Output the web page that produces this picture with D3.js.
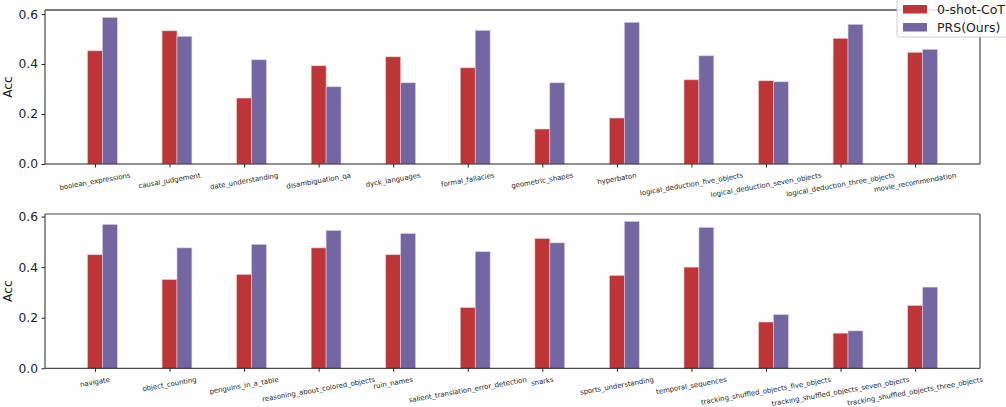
<!DOCTYPE html>
<html>
<head>
<meta charset="utf-8">
<script src="https://cdn.jsdelivr.net/npm/d3@7"></script>
<style>
  body { margin: 0; background: #fff; }
  svg text { font-family: "DejaVu Sans", sans-serif; }
</style>
</head>
<body>
<div id="chart"></div>
<script>
// two panels of BBH tasks, 0-shot-CoT vs PRS(Ours)

const tasksTop = ["boolean_expressions", "causal_judgement", "date_understanding", "disambiguation_qa",
  "dyck_languages", "formal_fallacies", "geometric_shapes", "hyperbaton",
  "logical_deduction_five_objects", "logical_deduction_seven_objects",
  "logical_deduction_three_objects", "movie_recommendation"];
const cotTop = [0.453, 0.533, 0.264, 0.393, 0.429, 0.385, 0.140, 0.184, 0.337, 0.333, 0.503, 0.447];
const prsTop = [0.587, 0.511, 0.417, 0.309, 0.325, 0.535, 0.325, 0.567, 0.433, 0.329, 0.559, 0.459];

const tasksBottom = ["navigate", "object_counting", "penguins_in_a_table", "reasoning_about_colored_objects",
  "ruin_names", "salient_translation_error_detection", "snarks", "sports_understanding",
  "temporal_sequences", "tracking_shuffled_objects_five_objects",
  "tracking_shuffled_objects_seven_objects", "tracking_shuffled_objects_three_objects"];
const cotBottom = [0.449, 0.351, 0.371, 0.476, 0.449, 0.240, 0.513, 0.367, 0.400, 0.183, 0.139, 0.248];
const prsBottom = [0.569, 0.476, 0.490, 0.545, 0.533, 0.461, 0.496, 0.581, 0.557, 0.212, 0.148, 0.321];

const yTicks = [0.0, 0.2, 0.4, 0.6];
const seriesNames = ["0-shot-CoT", "PRS(Ours)"];

const W = 1006, H = 407;
const red = "#be3538", purple = "#7467a1";
const barW = 0.2;
const rot = 10; // degrees, x tick labels

const svg = d3.select("#chart").append("svg")
    .attr("width", W)
    .attr("height", H);

function drawPanel(tasks, cot, prs, top, bottom, topSpineGray) {
    const g = svg.append("g");
    const n = tasks.length;
    // matplotlib-like 5% margins
    const lo = -barW / 2, hi = (n - 1) + barW * 1.5;
    const pad = (hi - lo) * 0.05;
    const x = d3.scaleLinear().domain([lo - pad, hi + pad]).range([45, 980]);
    const ymax = d3.max(cot.concat(prs)) * 1.05;
    const y = d3.scaleLinear().domain([0, ymax]).range([bottom, top]);

    // bars
    g.selectAll(".cot").data(cot).enter().append("rect")
        .attr("x", (d, i) => x(i - barW / 2))
        .attr("width", (d, i) => x(i + barW / 2) - x(i - barW / 2))
        .attr("y", d => y(d))
        .attr("height", d => y(0) - y(d))
        .attr("fill", red)
        .attr("stroke", "#f0c8c8")
        .attr("stroke-width", 0.6);
    g.selectAll(".prs").data(prs).enter().append("rect")
        .attr("x", (d, i) => x(i + barW / 2))
        .attr("width", (d, i) => x(i + barW * 1.5) - x(i + barW / 2))
        .attr("y", d => y(d))
        .attr("height", d => y(0) - y(d))
        .attr("fill", purple)
        .attr("stroke", "#d6d0ea")
        .attr("stroke-width", 0.6);

    // y axis
    const yAxis = g.append("g")
        .attr("transform", `translate(${x.range()[0]},0)`)
        .call(d3.axisLeft(y).tickValues(yTicks).tickFormat(d3.format(".1f")).tickSize(3.5).tickPadding(3.5));
    yAxis.select(".domain").remove();
    yAxis.selectAll("text").attr("font-size", "12.3px").attr("fill", "#222");
    yAxis.selectAll("line").attr("stroke", "#222");

    // x ticks
    const xAxis = g.append("g")
        .attr("transform", `translate(0,${bottom})`)
        .call(d3.axisBottom(x).tickValues(d3.range(n)).tickFormat("").tickSize(3.5));
    xAxis.select(".domain").remove();
    xAxis.selectAll("line").attr("stroke", "#222");

    // rotated tick labels, top of the rotated box sits under the tick
    const a = rot * Math.PI / 180;
    const fs = 6.9;
    tasks.forEach((t, i) => {
        const lbl = g.append("text")
            .attr("font-size", fs + "px")
            .attr("fill", "#222")
            .attr("text-anchor", "middle")
            .attr("dominant-baseline", "central")
            .text(t);
        const w = lbl.node().getComputedTextLength();
        const h = fs * 1.17;
        const cx = x(i), cy = bottom + 7.5 + (w * Math.sin(a) + h * Math.cos(a)) / 2;
        lbl.attr("transform", `translate(${cx},${cy}) rotate(${-rot})`);
    });

    // spines
    const [x0, x1] = x.range();
    g.append("line").attr("x1", x0).attr("x2", x0).attr("y1", top).attr("y2", bottom)
        .attr("stroke", "#222").attr("stroke-width", 1);
    g.append("line").attr("x1", x1).attr("x2", x1).attr("y1", top).attr("y2", bottom)
        .attr("stroke", "#222").attr("stroke-width", 1);
    g.append("line").attr("x1", x0).attr("x2", x1).attr("y1", bottom).attr("y2", bottom)
        .attr("stroke", "#222").attr("stroke-width", 1);
    g.append("line").attr("x1", x0).attr("x2", x1).attr("y1", top).attr("y2", top)
        .attr("stroke", topSpineGray ? "#7a7a7a" : "#444")
        .attr("stroke-width", topSpineGray ? 2 : 1);

    // y label
    g.append("text")
        .attr("transform", `translate(12,${(top + bottom) / 2}) rotate(-90)`)
        .attr("text-anchor", "middle")
        .attr("font-size", "12.3px")
        .attr("fill", "#222")
        .text("Acc");
}

drawPanel(tasksTop, cotTop, prsTop, 10, 164, true);
drawPanel(tasksBottom, cotBottom, prsBottom, 214, 368.3, false);

// legend, upper right, partly outside the figure
const legend = svg.append("g");
legend.append("rect")
    .attr("x", 897).attr("y", -4)
    .attr("width", 120).attr("height", 41)
    .attr("rx", 2)
    .attr("fill", "white").attr("fill-opacity", 0.85)
    .attr("stroke", "#ccc");
[red, purple].forEach((c, i) => {
    legend.append("rect")
        .attr("x", 903).attr("y", 5 + i * 18)
        .attr("width", 24).attr("height", 8.5)
        .attr("fill", c);
    legend.append("text")
        .attr("x", 937).attr("y", 13.8 + i * 18)
        .attr("font-size", "12.5px")
        .attr("fill", "#222")
        .text(seriesNames[i]);
});
</script>
</body>
</html>
